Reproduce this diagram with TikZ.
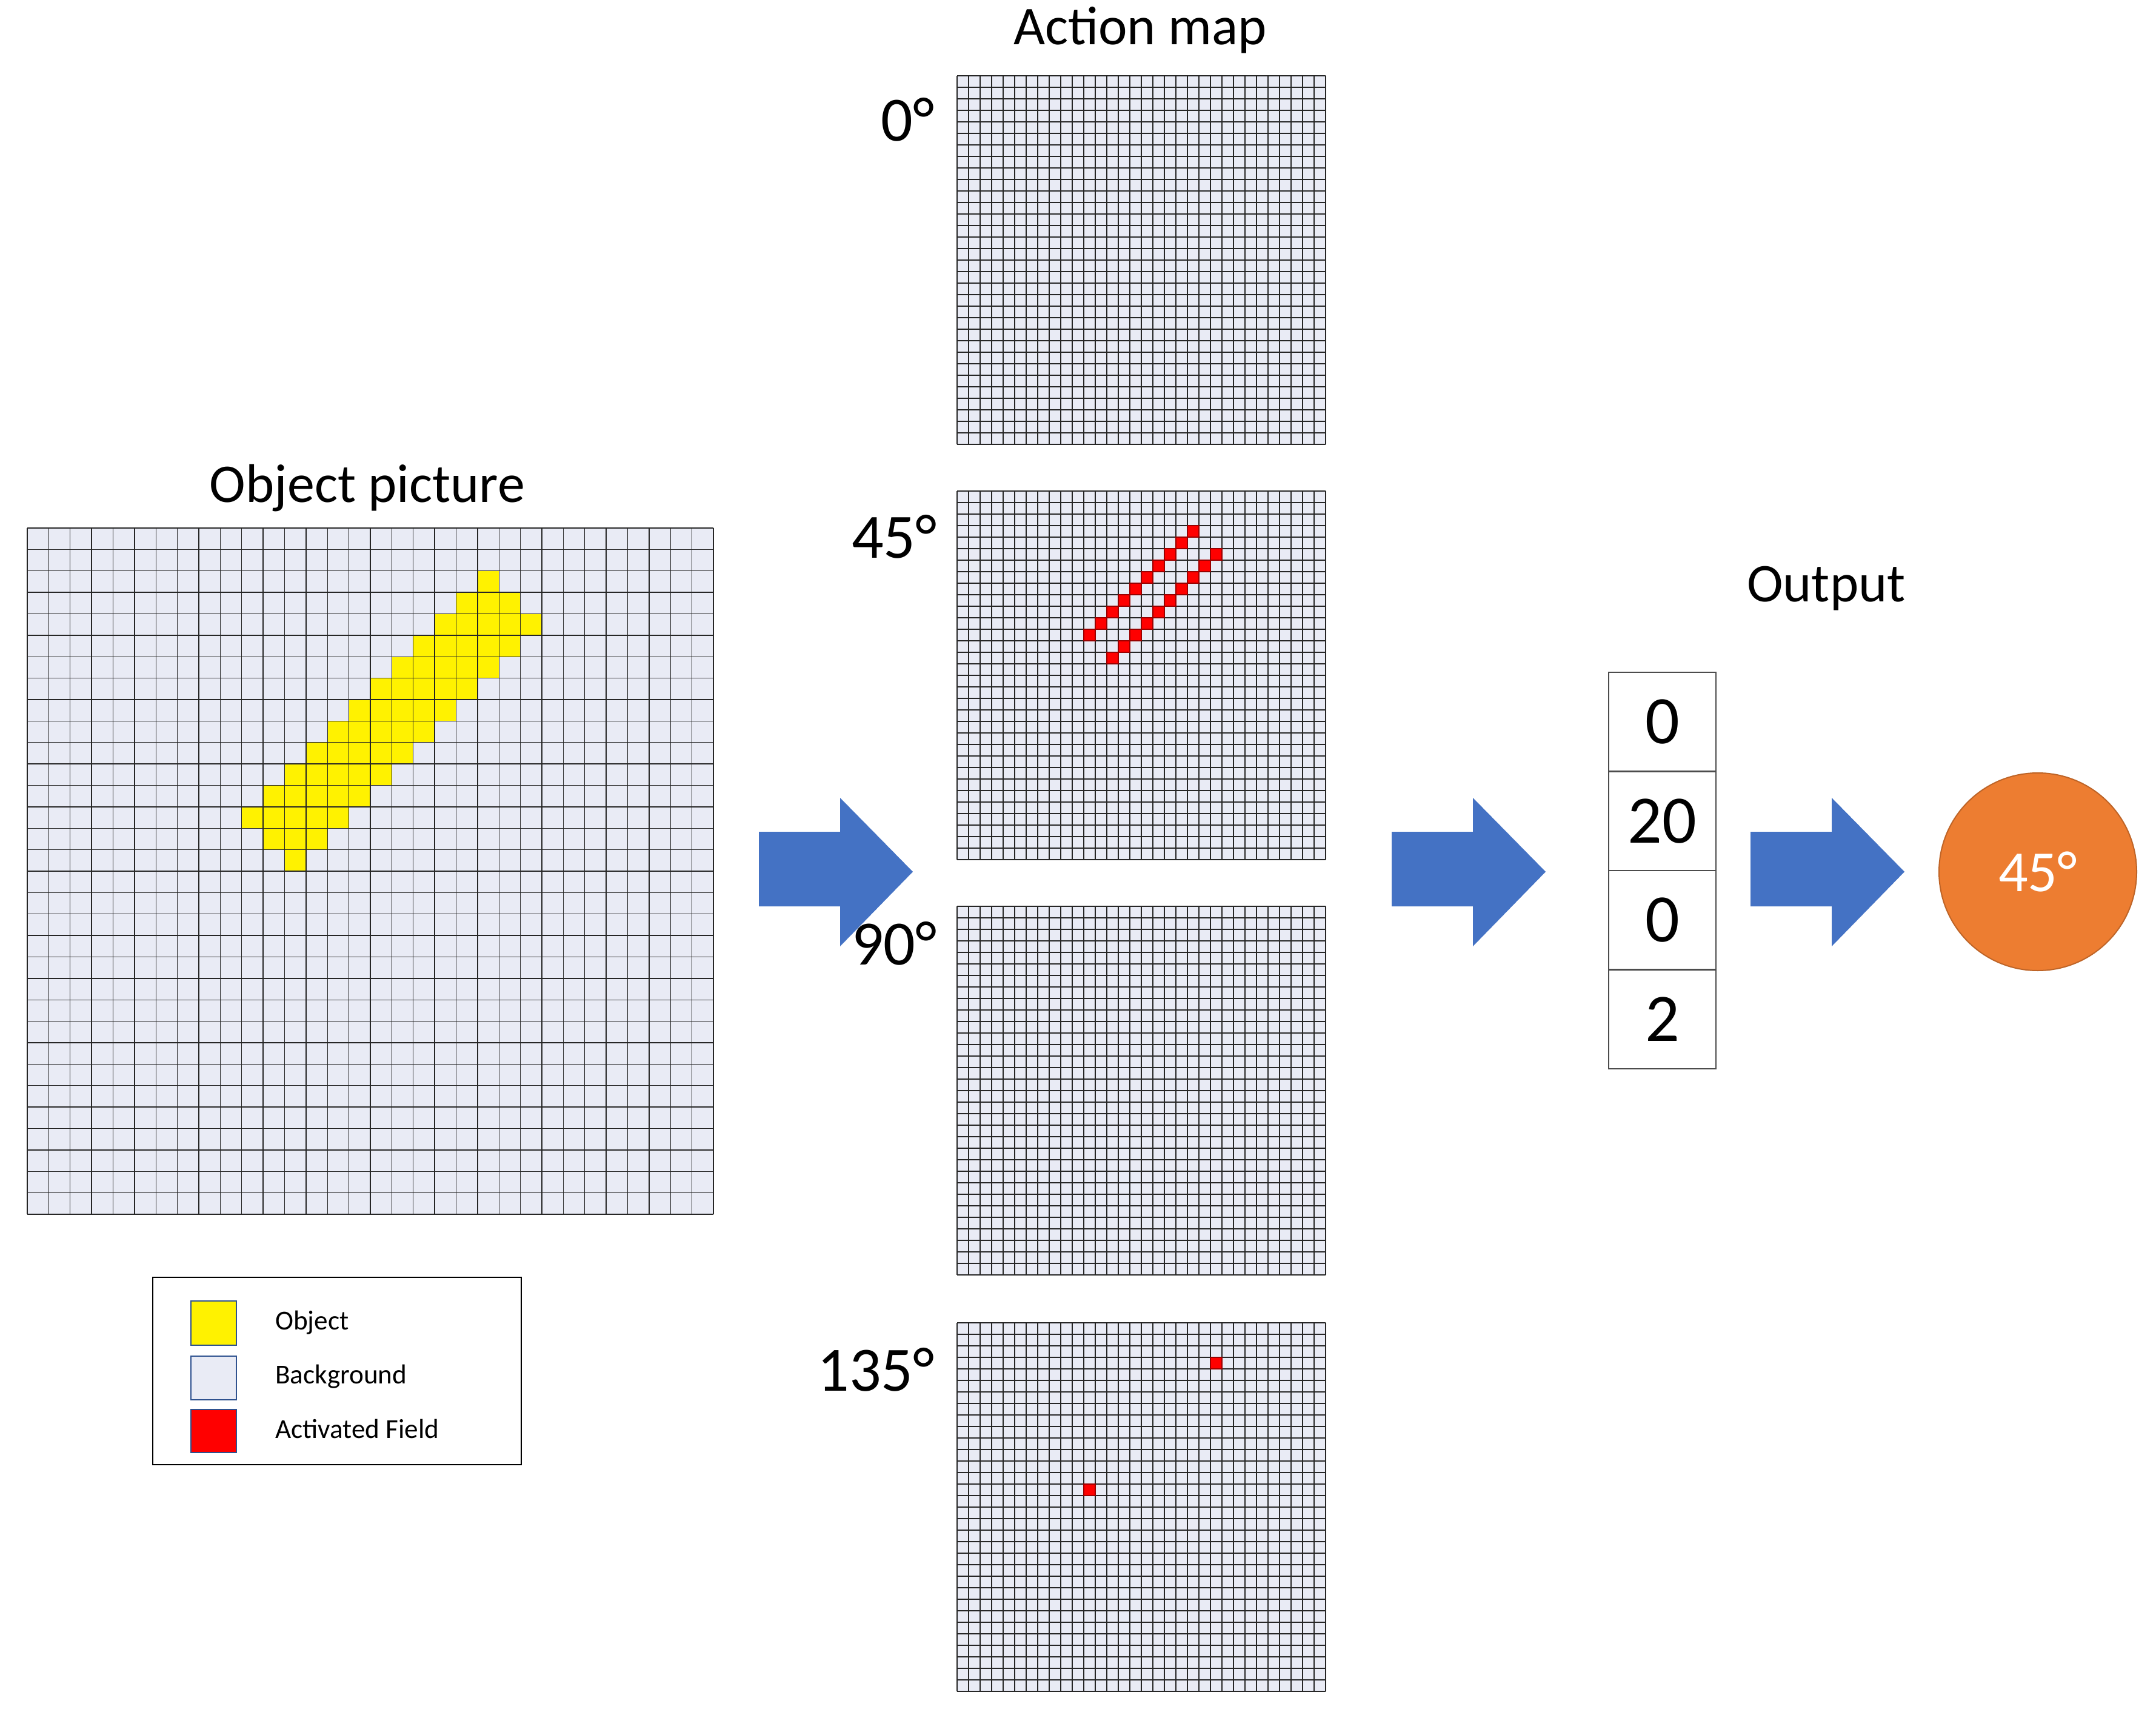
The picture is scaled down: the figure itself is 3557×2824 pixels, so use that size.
\documentclass[tikz,border=0pt]{standalone}
\usepackage{fontspec}
\setmainfont{Carlito}
\definecolor{bgc}{HTML}{E9EBF5}
\definecolor{arrowblue}{HTML}{4472C4}
\definecolor{orng}{HTML}{ED7D31}
\definecolor{swb}{HTML}{2F528F}
\newcommand\mygrid[4]{% x0 y0 size name
  \fill[bgc] (#1,#2) rectangle ++(#3,#3);
  \foreach \k in {0,...,32}{
    \draw[gridline] ({#1+\k*(#3/32)},#2) -- ++(0,#3);
    \draw[gridline] (#1,{#2+\k*(#3/32)}) -- ++(#3,0);
  }
  \coordinate (#4) at ({#1+#3/2},{#2+#3/2});
}
\newcommand\mycells[5]{% x0 y0 size style list
  \foreach \c/\r in {#5}
    \path[#4] ({#1+\c*(#3/32)},{#2+\r*(#3/32)}) rectangle ++({#3/32},{#3/32});
}
\newcommand\myarrow[2]{% x0 name
  \fill[arrowblue] (#1,1372) -- ({#1+134},1372) -- ({#1+134},1316) -- ({#1+254},1438) -- ({#1+134},1561) -- ({#1+134},1495) -- (#1,1495) -- cycle;
  \coordinate (#2) at ({#1+127},1438);
}
\begin{document}
\begin{tikzpicture}[x=0.25pt,y=-0.25pt,
  gridline/.style={black!85,line width=0.35pt},
  ttl/.style={font=\fontsize{22.5}{26}\selectfont},
  deg/.style={font=\fontsize{26}{30}\selectfont,anchor=east},
  num/.style={font=\fontsize{28}{32}\selectfont},
  leg/.style={font=\fontsize{11.3}{13}\selectfont,anchor=west},
  sw/.style={draw=swb,line width=0.5pt},
  redc/.style={fill=red,draw=red!60!black,line width=0.5pt},
  yel/.style={fill=yellow}]
\useasboundingbox (0,0) rectangle (3557,2824);
\fill[white] (0,0) rectangle (3557,2824);
% object picture
\fill[bgc] (45,871) rectangle ++(1132,1132);
\mycells{45}{871}{1132}{yel}{21/2,20/3,21/3,22/3,19/4,20/4,21/4,22/4,23/4,18/5,19/5,20/5,21/5,22/5,17/6,18/6,19/6,20/6,21/6,16/7,17/7,18/7,19/7,20/7,15/8,16/8,17/8,18/8,19/8,14/9,15/9,16/9,17/9,18/9,13/10,14/10,15/10,16/10,17/10,12/11,13/11,14/11,15/11,16/11,11/12,12/12,13/12,14/12,15/12,10/13,11/13,12/13,13/13,14/13,11/14,12/14,13/14,12/15}
\foreach \k in {0,...,32}{
  \draw[gridline] ({45+\k*(1132/32)},871) -- ++(0,1132);
  \draw[gridline] (45,{871+\k*(1132/32)}) -- ++(1132,0);
}
\coordinate (obj) at (611,1437);
\node[ttl] (objt) at (606,805) {Object picture};
% action maps
\mygrid{1579}{125}{608}{m0}
\mygrid{1579}{810}{608}{m45}
\mygrid{1579}{1495}{608}{m90}
\mygrid{1579}{2182}{608}{m135}
\mycells{1579}{810}{608}{redc}{20/3,19/4,18/5,17/6,16/7,15/8,14/9,13/10,12/11,11/12,22/5,21/6,20/7,19/8,18/9,17/10,16/11,15/12,14/13,13/14}
\mycells{1579}{2182}{608}{redc}{22/3,11/14}
\node[ttl] (amt) at (1881,50) {Action map};
\node[deg] (d0) at (1556,197) {0°};
\node[deg] (d45) at (1560,885) {45°};
\node[deg] (d90) at (1560,1556) {90°};
\node[deg] (d135) at (1556,2259) {135°};
% arrows
\myarrow{1252}{a1}
\myarrow{2296}{a2}
\myarrow{2888}{a3}
% output table
\foreach \v [count=\i from 0] in {0,20,0,2}
  \node[draw=black!70,line width=0.5pt,minimum width=44.25pt,minimum height=40.9pt,inner sep=0,num] (o\i) at (2742.5,{1109+81.75+\i*163.5}) {\v};
\node[ttl] (outt) at (3013,971) {Output};
\node[circle,fill=orng,draw=orng!80!black,line width=0.5pt,minimum size=81.5pt,inner sep=0,text=white,font=\fontsize{24}{28}\selectfont] (res) at (3362,1438) {45°};
% legend
\node[draw=black,line width=0.6pt,minimum width=152pt,minimum height=77.25pt,inner sep=0] (legend) at (556,2261.5) {};
\draw[sw,fill=yellow] (315,2146) rectangle (390,2219);
\draw[sw,fill=bgc] (315,2237) rectangle (390,2309);
\draw[sw,fill=red] (315,2325) rectangle (390,2396);
\node[leg] (l1) at (440,2182) {Object};
\node[leg] (l2) at (440,2271) {Background};
\node[leg] (l3) at (440,2357) {Activated Field};
\end{tikzpicture}
\end{document}
